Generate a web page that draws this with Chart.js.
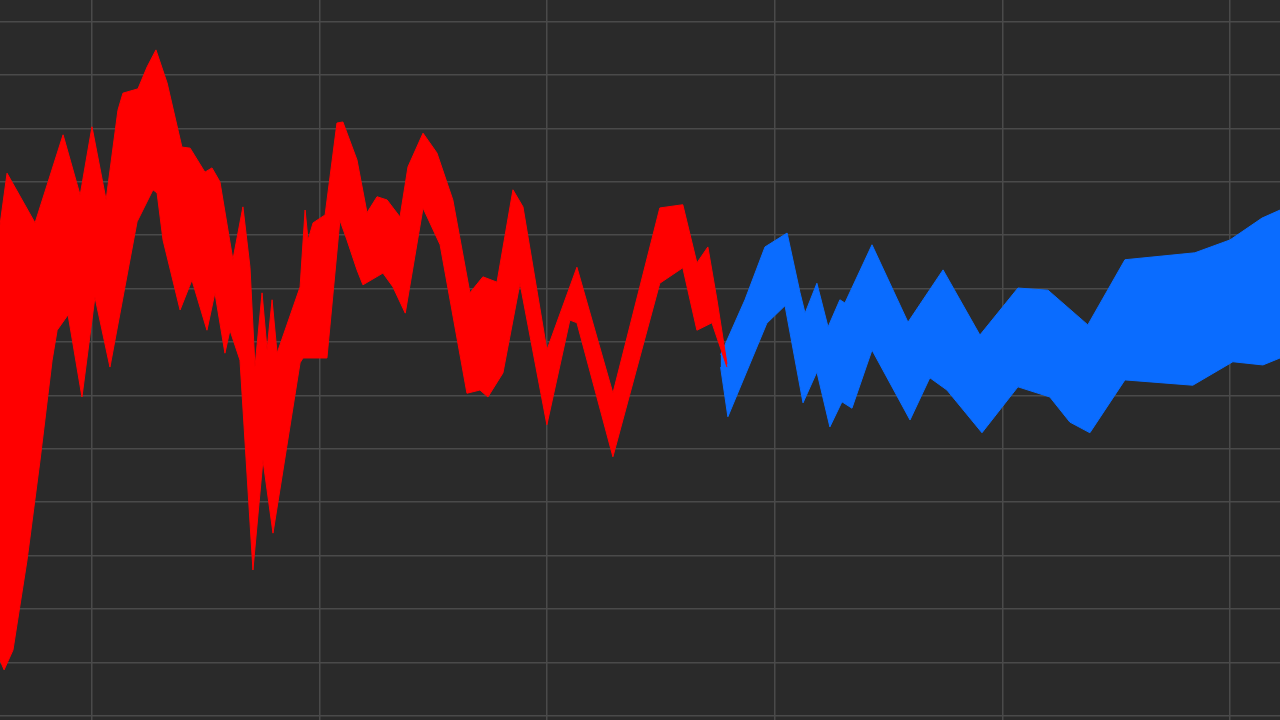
<!DOCTYPE html>
<html>
<head>
<meta charset="utf-8">
<title>Band chart</title>
<script src="https://cdn.jsdelivr.net/npm/chart.js@4.4.1/dist/chart.umd.min.js"></script>
<style>
  html, body { margin: 0; padding: 0; background: #2a2a2a; }
  #wrap { width: 1280px; height: 720px; }
</style>
</head>
<body>
<div id="wrap"><canvas id="band"></canvas></div>
<script>
// red band: upper and lower edges (x, y)
var redHighX = [-4.03, -3.72, -2.49, -1.26, -0.51, 0.01, 0.63, 1.15, 1.37, 2.03, 2.43, 2.82, 3.31, 3.96, 4.32, 4.97, 5.28, 5.63, 6.20, 6.64, 6.95, 7.17, 7.48, 7.70, 7.92, 8.14, 9.15, 9.37, 9.50, 9.72, 10.25, 10.77, 11.03, 11.65, 12.09, 12.53, 12.97, 13.54, 13.89, 14.55, 15.16, 15.86, 16.61, 17.18, 17.80, 18.50, 18.94, 19.99, 21.31, 22.89, 24.95, 25.96, 26.58, 27.06, 27.46, 27.90];
var redHighY = [91.9, 101.6, 92.3, 108.8, 97.5, 110.3, 96.6, 113.4, 116.6, 117.4, 121.5, 124.7, 118.5, 106.5, 106.3, 101.8, 102.6, 100.0, 85.4, 95.3, 84.0, 65.3, 79.2, 68.5, 77.9, 67.9, 80.3, 94.7, 89.1, 92.3, 93.8, 111.0, 111.2, 104.1, 94.2, 97.2, 96.6, 93.4, 102.8, 109.1, 105.4, 96.6, 79.2, 82.2, 81.2, 98.5, 95.3, 68.5, 84.0, 60.4, 95.1, 95.7, 84.8, 87.8, 77.9, 65.9];

var redLowX = [-4.03, -3.85, -3.46, -2.84, -2.27, -1.74, -1.52, -1.04, -0.43, 0.14, 0.80, 1.99, 2.69, 2.87, 3.13, 3.88, 4.40, 5.06, 5.41, 5.85, 6.07, 6.51, 7.08, 7.52, 7.96, 9.15, 9.28, 10.33, 10.90, 11.21, 11.65, 11.91, 12.79, 13.23, 13.77, 14.55, 15.30, 16.48, 17.05, 17.40, 18.06, 18.81, 19.99, 21.00, 21.31, 22.89, 24.95, 25.96, 26.58, 27.24, 27.90];
var redLowY = [10.4, 8.6, 12.3, 29.2, 47.9, 66.6, 72.2, 75.1, 59.7, 78.4, 65.3, 92.5, 98.5, 97.9, 89.1, 76.0, 81.6, 72.2, 79.2, 67.9, 72.2, 66.6, 27.3, 47.9, 34.2, 66.1, 67.0, 67.0, 92.8, 89.1, 83.5, 80.7, 82.9, 80.3, 75.4, 95.1, 88.2, 60.4, 61.0, 59.7, 64.2, 81.0, 54.5, 74.1, 73.6, 48.5, 81.0, 83.9, 72.2, 73.6, 65.3];

// blue band
var blueHighX = [27.62, 28.69, 29.57, 30.54, 31.11, 31.33, 31.85, 32.34, 32.86, 33.08, 34.27, 35.85, 37.39, 39.01, 40.68, 42.00, 43.75, 45.38, 48.45, 49.99, 51.40, 52.19];
var blueHighY = [67.6, 77.9, 87.8, 90.4, 79.2, 75.4, 81.0, 72.8, 77.9, 77.3, 88.2, 73.7, 83.5, 71.3, 80.1, 79.7, 73.2, 85.4, 86.7, 89.1, 93.2, 94.7];

var blueLowX = [27.62, 27.94, 29.65, 30.45, 31.24, 31.85, 32.42, 32.95, 33.39, 34.27, 35.94, 36.81, 37.56, 39.10, 40.68, 42.08, 42.96, 43.84, 45.38, 48.36, 50.12, 51.44, 52.19];
var blueLowY = [65.3, 56.0, 73.5, 76.8, 58.6, 64.4, 54.1, 58.8, 57.6, 68.5, 55.4, 63.3, 61.0, 53.0, 61.6, 59.7, 55.0, 53.0, 62.9, 61.9, 66.3, 65.7, 67.0];

var xTicks = [0, 10, 20, 30, 40, 50];
var yTicks = [0, 10, 20, 30, 40, 50, 60, 70, 80, 90, 100, 110, 120, 130];

function pts(xs, ys) {
    return xs.map(function (x, i) { return { x: x, y: ys[i] }; });
}

function edge(data, color, fill) {
    return {
        data: data,
        borderColor: color,
        backgroundColor: color,
        borderWidth: 1,
        pointRadius: 0,
        tension: 0,
        fill: fill
    };
}

var RED = '#ff0000';
var BLUE = '#0a6cff';

var bgPlugin = {
    id: 'bg',
    beforeDraw: function (chart) {
        var c = chart.ctx;
        c.save();
        c.fillStyle = '#2a2a2a';
        c.fillRect(0, 0, chart.width, chart.height);
        c.restore();
    }
};

var config = {
    type: 'line',
    data: {
        datasets: [
            edge(pts(redLowX, redLowY), RED, false),
            edge(pts(redHighX, redHighY), RED, '-1'),
            edge(pts(blueLowX, blueLowY), BLUE, false),
            edge(pts(blueHighX, blueHighY), BLUE, '-1')
        ]
    },
    options: {
        responsive: true,
        maintainAspectRatio: false,
        animation: false,
        layout: { padding: 0 },
        plugins: {
            legend: { display: false },
            tooltip: { enabled: false }
        },
        scales: {
            x: {
                type: 'linear',
                min: -4.03,
                max: 52.19,
                afterBuildTicks: function (axis) {
                    axis.ticks = xTicks.map(function (v) { return { value: v }; });
                },
                ticks: { display: false },
                grid: { color: '#4a4a4a', lineWidth: 1.5, drawTicks: false },
                border: { display: false }
            },
            y: {
                type: 'linear',
                min: -0.79,
                max: 134.04,
                afterBuildTicks: function (axis) {
                    axis.ticks = yTicks.map(function (v) { return { value: v }; });
                },
                ticks: { display: false },
                grid: { color: '#4a4a4a', lineWidth: 1.5, drawTicks: false },
                border: { display: false }
            }
        }
    },
    plugins: [bgPlugin]
};

window.onload = function () {
    var ctx = document.getElementById('band').getContext('2d');
    window.bandChart = new Chart(ctx, config);
};
</script>
</body>
</html>
